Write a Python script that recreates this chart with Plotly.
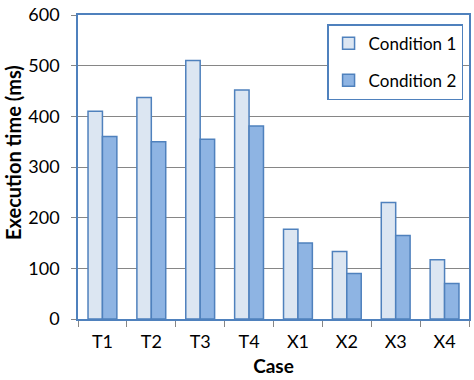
import plotly.graph_objects as go

categories = ["T1", "T2", "T3", "T4", "X1", "X2", "X3", "X4"]
condition1 = [410, 437, 510, 452, 177, 133, 230, 117]
condition2 = [360, 350, 355, 381, 150, 90, 165, 70]
series_names = ["Condition 1", "Condition 2"]
y_ticks = [0, 100, 200, 300, 400, 500, 600]

BLUE = "#4f81bd"
FONT = "Lato"

fig = go.Figure()
fig.add_trace(go.Bar(x=categories, y=condition1, name=series_names[0], legendgroup="a",
                     marker=dict(color="#dce6f2", line=dict(color=BLUE, width=1.5))))
fig.add_trace(go.Bar(x=categories, y=condition2, name=series_names[1], legendgroup="b",
                     marker=dict(color="#8eb4e3", line=dict(color=BLUE, width=1.5))))

fig.update_layout(
    width=474, height=380,
    margin=dict(l=78, r=3, t=10, b=61),
    paper_bgcolor="white", plot_bgcolor="white",
    barmode="group", bargap=0.41, bargroupgap=0,
    font=dict(family=FONT, size=18, color="black"),
    legend=dict(x=0.637, y=0.97, xanchor="left", yanchor="top",
                bgcolor="white", bordercolor=BLUE, borderwidth=1.5,
                font=dict(size=17), tracegroupgap=12),
    xaxis=dict(type="category", showline=True, linecolor=BLUE, linewidth=1.5, mirror=True,
               ticks="outside", tickson="boundaries", ticklen=6, tickcolor="#868686",
               ticklabelstandoff=6,
               title=dict(text="<b>Case</b>", font=dict(size=19), standoff=8)),
    yaxis=dict(range=[0, 600], tickvals=y_ticks, showgrid=True, gridcolor="#868686", gridwidth=1,
               showline=True, linecolor=BLUE, linewidth=1.5, mirror=True,
               ticks="outside", ticklen=5, tickcolor="#868686", zeroline=False,
               ticklabeloverflow="allow", ticklabelstandoff=8),
    annotations=[dict(text="<b>Execution time (ms)</b>", textangle=-90,
                      xref="paper", yref="paper", x=-0.168, y=0.547,
                      xanchor="center", yanchor="middle", showarrow=False,
                      font=dict(size=20))],
)

fig.write_html("out.html", config={"displayModeBar": False},
               post_script="document.body.style.margin='0';document.body.style.overflow='hidden';")
